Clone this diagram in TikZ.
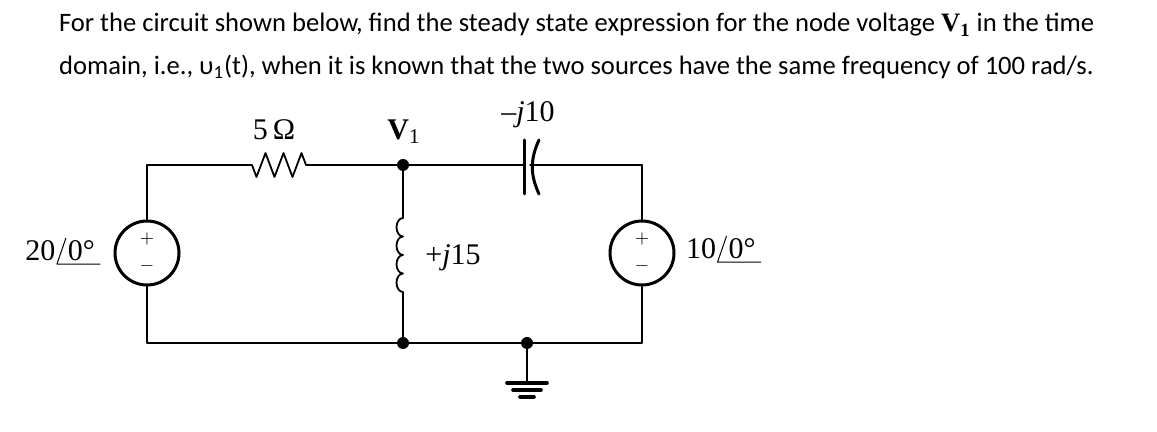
\documentclass[tikz,border=0pt]{standalone}
\usepackage{fontspec}
\setmainfont{Liberation Serif}
\newfontfamily\bodyfont{Carlito}
\usetikzlibrary{positioning}
\newcommand{\phasorang}[2]{#1\kern0.5pt\tikz[baseline,x=1cm,y=1cm]{\draw[line width=0.5pt] (0.3em,0.75em)--(0,-0.12em)--(1.45em,-0.12em);}\kern-1.1em#2}
\tikzset{
  wire/.style={line width=0.9pt},
  dot/.style={circle,fill,inner sep=0pt,minimum size=6pt},
  src/.style={circle,draw,line width=1.5pt,minimum size=32pt,inner sep=0pt},
  lbl/.style={font=\fontsize{15}{17}\selectfont},
  sgn/.style={font=\fontsize{9}{9}\selectfont,inner sep=0pt}
}
\begin{document}
\begin{tikzpicture}[x=0.5pt,y=-0.5pt,line cap=round,line join=round]
\useasboundingbox (0,0) rectangle (1157,432);
% problem text
\node[anchor=west,font=\bodyfont\fontsize{13.3}{16}\selectfont] (q1) at (52,25)
  {For the circuit shown below, find the steady state expression for the node voltage \textbf{\fontspec{Liberation Serif}V\textsubscript{1}} in the time};
\node[anchor=west,font=\bodyfont\fontsize{13.3}{16}\selectfont] (q2) at (52,67)
  {domain, i.e., υ\textsubscript{1}(t), when it is known that the two sources have the same frequency of 100 rad/s.};
% corners and nodes
\coordinate (tl) at (147,165);
\coordinate (bl) at (147,343);
\coordinate (tr) at (642,165);
\coordinate (br) at (642,343);
\node[dot] (v1) at (403,165) {};
\node[dot] (nb) at (403,343) {};
\node[dot] (ng) at (527,343) {};
\node[src] (s1) at (147,253) {};
\node[src] (s2) at (642,253) {};
\node[sgn] at (147,239) {$+$};
\node[sgn] at (147,266) {$-$};
\node[sgn] at (642,239) {$+$};
\node[sgn] at (642,266) {$-$};
% resistor
\coordinate (ra) at (252,165);
\coordinate (rb) at (306,165);
\draw[wire] (tl) -- (s1.north);
\draw[wire] (s1.south) -- (bl) -- (nb) -- (ng) -- (br) -- (s2.south);
\draw[wire] (s2.north) -- (tr);
\draw[wire] (tl) -- (ra) -- ++(4.5,12) -- ++(9,-24) -- ++(9,24) -- ++(9,-24) -- ++(9,24) -- ++(9,-24) -- ++(4.5,12) -- (rb) -- (v1);
% inductor
\coordinate (la) at (403,218);
\coordinate (lb) at (403,292);
\draw[wire] (v1) -- (la);
\draw[wire] (la) \foreach \k in {1,...,4} {arc (270:90:6.5 and 9.25)} -- (lb) -- (nb);
% capacitor
\coordinate (ca) at (524,165);
\coordinate (cb) at (530,165);
\draw[wire] (v1) -- (ca);
\draw[line width=1.5pt] (524,140) -- (524,194);
\draw[line width=1.5pt] (539,140) to[bend right=25] (539,194);
\draw[wire] (cb) -- (tr);
% ground
\coordinate (g0) at (527,383);
\draw[wire] (ng) -- (g0);
\draw[line width=1.8pt] (507,383) -- (547,383);
\draw[line width=1.8pt] (513,390) -- (541,390);
\draw[line width=1.8pt] (520,397) -- (534,397);
% labels
\node[lbl] (r1lbl) at (274,130) {5\,Ω};
\node[lbl] (v1lbl) at (404,132) {\textbf{V}\textsubscript{1}};
\node[lbl] (clbl) at (528,115) {–\textit{j}10};
\node[lbl] (llbl) at (453,258) {+\textit{j}15};
\node[lbl,anchor=east] (s1lbl) at (102,251) {\phasorang{20}{0°}};
\node[lbl,anchor=west] (s2lbl) at (679,249) {\phasorang{10}{0°}};
\end{tikzpicture}
\end{document}
